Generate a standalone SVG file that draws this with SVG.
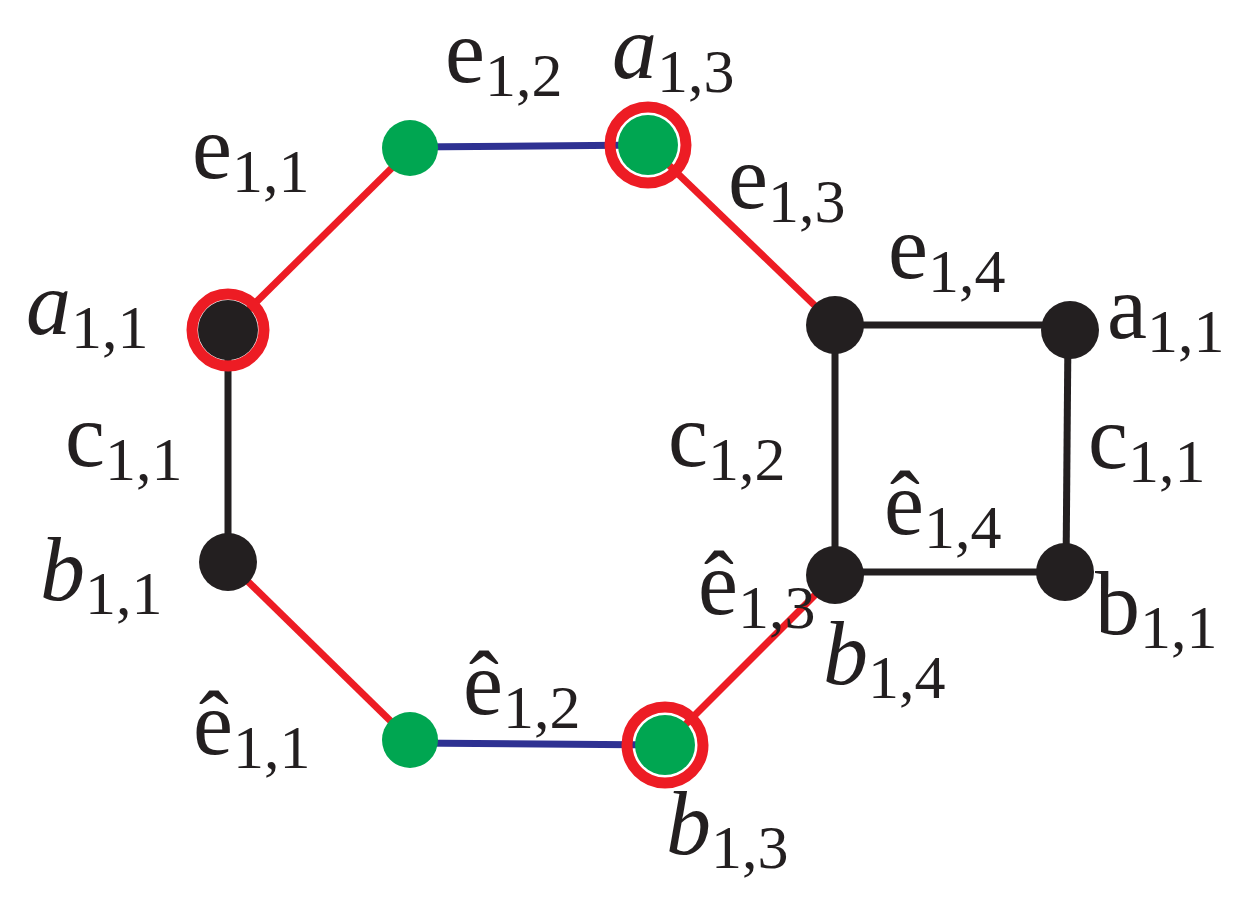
<svg xmlns="http://www.w3.org/2000/svg" width="1260" height="911" viewBox="0 0 1260 911">
<style>
text{font-family:"Liberation Serif","Times New Roman",serif;font-size:90px;fill:#231f20}
.i{font-style:italic}
.s{font-size:62px;font-style:normal}
.red{stroke:#ed1c24;stroke-width:7;fill:none}
.blue{stroke:#2e3192;stroke-width:7}
.blk{stroke:#231f20;stroke-width:7}
.bn{fill:#231f20}
.gn{fill:#00a651}
.ring{fill:none;stroke:#ed1c24;stroke-width:11}
</style>
<rect width="1260" height="911" fill="#fff"/>
<g id="connectors">
<line class="red" x1="228" y1="330" x2="410" y2="150"/>
<line class="blue" x1="410" y1="147" x2="648" y2="145"/>
<line class="red" x1="648" y1="145" x2="835" y2="325"/>
<line class="blk" x1="228" y1="330" x2="228" y2="562"/>
<line class="red" x1="228" y1="562" x2="410" y2="740"/>
<line class="blue" x1="410" y1="743" x2="665" y2="745"/>
<line class="red" x1="665" y1="745" x2="835" y2="575"/>
<line class="blk" x1="835" y1="325" x2="1070" y2="325"/>
<line class="blk" x1="835" y1="325" x2="835" y2="575"/>
<line class="blk" x1="835" y1="572" x2="1065" y2="572"/>
<line class="blk" x1="1068" y1="330" x2="1066" y2="572"/>
</g>
<g id="a11"><circle class="bn" cx="228" cy="330" r="30"/><circle class="ring" cx="228" cy="330" r="36"/></g>
<g id="b11"><circle class="bn" cx="228" cy="562" r="29"/></g>
<g id="g1"><circle class="gn" cx="410" cy="148" r="28"/></g>
<g id="a13"><circle class="gn" cx="648" cy="145" r="30"/><circle class="ring" cx="648" cy="145" r="38"/></g>
<g id="sq1"><circle class="bn" cx="835" cy="325" r="29"/></g>
<g id="sq2"><circle class="bn" cx="1070" cy="330" r="29"/></g>
<g id="sq3"><circle class="bn" cx="835" cy="575" r="29"/></g>
<g id="sq4"><circle class="bn" cx="1065" cy="572" r="29"/></g>
<g id="g2"><circle class="gn" cx="410" cy="740" r="28"/></g>
<g id="b13"><circle class="gn" cx="665" cy="745" r="30"/><circle class="ring" cx="665" cy="745" r="38"/></g>
<g id="labels">
<text x="445" y="82">e<tspan class="s" dy="14">1,2</tspan></text>
<text x="612" y="78" class="i">a<tspan class="s" dy="14">1,3</tspan></text>
<text x="192" y="178">e<tspan class="s" dy="14">1,1</tspan></text>
<text x="728" y="208">e<tspan class="s" dy="14">1,3</tspan></text>
<text x="888" y="278">e<tspan class="s" dy="14">1,4</tspan></text>
<text x="26" y="334" class="i">a<tspan class="s" dy="14">1,1</tspan></text>
<text x="1107" y="338">a<tspan class="s" dy="14">1,1</tspan></text>
<text x="65" y="466">c<tspan class="s" dy="14">1,1</tspan></text>
<text x="668" y="466">c<tspan class="s" dy="14">1,2</tspan></text>
<text x="1088" y="468">c<tspan class="s" dy="14">1,1</tspan></text>
<text x="884" y="534">ê<tspan class="s" dy="14">1,4</tspan></text>
<text x="40" y="600" class="i">b<tspan class="s" dy="14">1,1</tspan></text>
<text x="698" y="614">ê<tspan class="s" dy="14">1,3</tspan></text>
<text x="1095" y="634">b<tspan class="s" dy="14">1,1</tspan></text>
<text x="823" y="684" class="i">b<tspan class="s" dy="14">1,4</tspan></text>
<text x="193" y="754">ê<tspan class="s" dy="14">1,1</tspan></text>
<text x="463" y="714">ê<tspan class="s" dy="14">1,2</tspan></text>
<text x="666" y="854" class="i">b<tspan class="s" dy="14">1,3</tspan></text>
</g>
</svg>
